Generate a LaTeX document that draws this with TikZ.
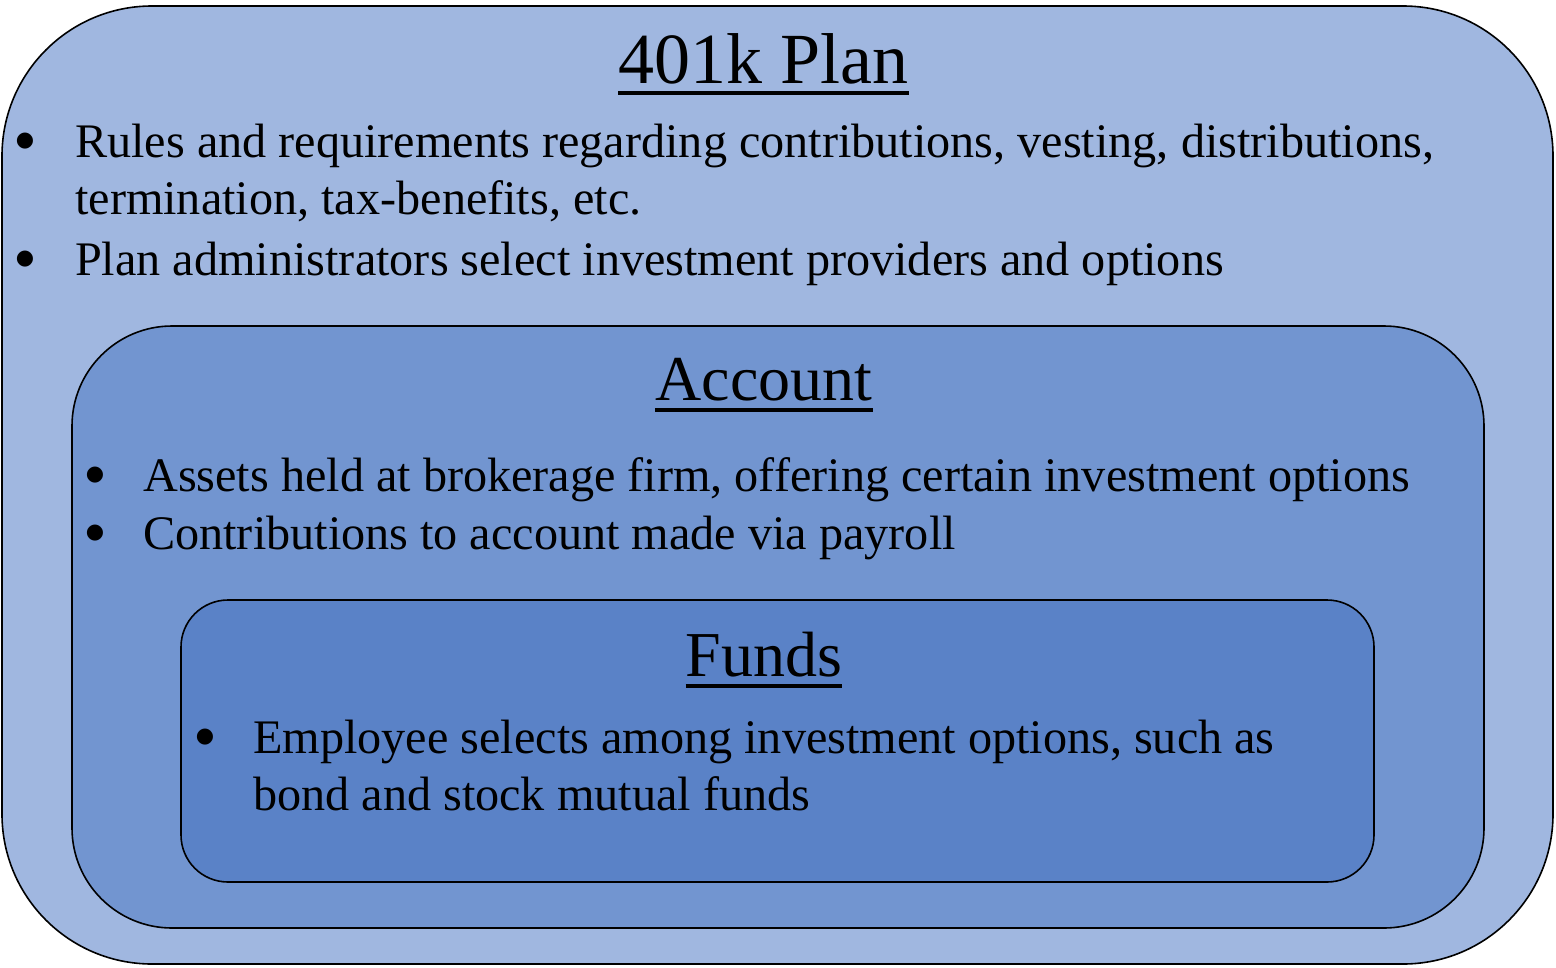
\documentclass[tikz,border=0pt]{standalone}
\usepackage{fontspec}
\setmainfont{Liberation Serif}
\newfontfamily\bulfont{DejaVu Sans}
\definecolor{planfill}{RGB}{160,183,224}
\definecolor{accfill}{RGB}{114,149,208}
\definecolor{fundfill}{RGB}{90,130,199}
\begin{document}
\begin{tikzpicture}[x=1pt,y=-1pt,
  box/.style={draw=black,line width=1.6pt,rectangle,inner sep=0pt},
  body/.style={anchor=base west,inner sep=0pt,font=\fontsize{48.2}{58}\selectfont},
  bul/.style={anchor=base,inner sep=0pt,yshift=11pt,font=\bulfont\fontsize{21}{24}\selectfont},
  title/.style={anchor=base,inner sep=0pt},
  uline/.style={line width=3.5pt}]
\useasboundingbox (0,0) rectangle (1556,967);
% boxes
\node[box,fill=planfill,rounded corners=150pt,minimum width=1551pt,minimum height=958pt] (plan) at (777.5,485) {};
\node[box,fill=accfill,rounded corners=100pt,minimum width=1412pt,minimum height=602pt] (acc) at (778,627) {};
\node[box,fill=fundfill,rounded corners=47pt,minimum width=1193pt,minimum height=282pt] (fund) at (777.5,741) {};
% 401k Plan
\node[title,font=\fontsize{72}{80}\selectfont] (t1) at (763.5,83) {401k Plan};
\draw[uline] ([yshift=-10pt]t1.base west) -- ([yshift=-10pt]t1.base east);
\node[bul] (b1) at (25,157) {●};
\node[body] (l1a) at (75,157) {Rules and requirements regarding contributions, vesting, distributions,};
\node[body] (l1b) at (75,214) {termination, tax-benefits, etc.};
\node[bul] (b2) at (25,275) {●};
\node[body] (l2) at (75,275) {Plan administrators select investment providers and options};
% Account
\node[title,font=\fontsize{64}{72}\selectfont] (t2) at (764,400) {Account};
\draw[uline] ([yshift=-10pt]t2.base west) -- ([yshift=-10pt]t2.base east);
\node[bul] (b3) at (95,491) {●};
\node[body] (l3) at (143,491) {Assets held at brokerage firm, offering certain investment options};
\node[bul] (b4) at (95,549) {●};
\node[body] (l4) at (143,549) {Contributions to account made via payroll};
% Funds
\node[title,font=\fontsize{64}{72}\selectfont] (t3) at (764,676) {Funds};
\draw[uline] ([yshift=-10pt]t3.base west) -- ([yshift=-10pt]t3.base east);
\node[bul] (b5) at (205,753) {●};
\node[body] (l5a) at (253,753) {Employee selects among investment options, such as};
\node[body] (l5b) at (253,810) {bond and stock mutual funds};
\end{tikzpicture}
\end{document}
